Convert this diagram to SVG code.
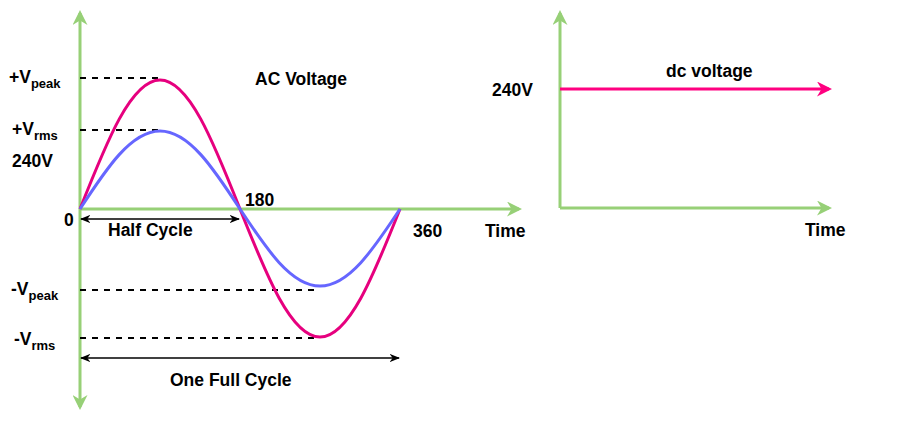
<svg xmlns="http://www.w3.org/2000/svg" width="902" height="421" viewBox="0 0 902 421">
<style>
.ax{stroke:#97D077;stroke-width:3;fill:none}
.dash{stroke:#000;stroke-width:2;stroke-dasharray:6 6;fill:none}
.blk{stroke:#000;stroke-width:1.5;fill:none}
text{font-family:"Liberation Sans",Arial,sans-serif;font-weight:bold;font-size:17.5px;fill:#000}
.sub{font-size:13px}
</style>
<defs>
<marker id="ga" viewBox="0 0 10 10" refX="8" refY="5" markerWidth="5" markerHeight="5" orient="auto-start-reverse"><path d="M0,0L10,5L0,10L3,5Z" fill="#97D077"/></marker>
<marker id="ka" viewBox="0 0 10 10" refX="9" refY="5" markerWidth="7" markerHeight="7" orient="auto-start-reverse"><path d="M0,1L10,5L0,9L3,5Z" fill="#000"/></marker>
<marker id="pa" viewBox="0 0 10 10" refX="8" refY="5" markerWidth="5" markerHeight="5" orient="auto"><path d="M0,0L10,5L0,10L3,5Z" fill="#FF0080"/></marker>
</defs>
<g id="connectors">
<line class="ax" x1="80" y1="407" x2="80" y2="13" marker-start="url(#ga)" marker-end="url(#ga)"/>
<line class="ax" x1="80" y1="209" x2="519" y2="209" marker-end="url(#ga)"/>
<line class="ax" x1="560" y1="208" x2="560" y2="13" marker-end="url(#ga)"/>
<line class="ax" x1="560" y1="208" x2="829" y2="208" marker-end="url(#ga)"/>
<line x1="560" y1="89" x2="829" y2="89" stroke="#FF0080" stroke-width="3" marker-end="url(#pa)"/>
<line class="dash" x1="80" y1="78" x2="160" y2="78"/>
<line class="dash" x1="80" y1="130" x2="160" y2="130"/>
<line class="dash" x1="80" y1="290" x2="320" y2="290"/>
<line class="dash" x1="80" y1="338" x2="320" y2="338"/>
<line class="blk" x1="81" y1="219" x2="239" y2="219" marker-start="url(#ka)" marker-end="url(#ka)"/>
<line class="blk" x1="81" y1="358" x2="399" y2="358" marker-start="url(#ka)" marker-end="url(#ka)"/>
</g>
<g id="red-wave"><path fill="none" stroke="#E6007E" stroke-width="3" d="M80,209 C106.7,141.3 131.2,80 160,80 S213.3,141.3 240,209 C266.7,276.2 291.2,337 320,337 S373.3,276.2 400,209"/></g>
<g id="blue-wave"><path fill="none" stroke="#6666FF" stroke-width="3" d="M80,209 C106.7,168 131.2,131 160,131 S213.3,168 240,209 C266.7,249.4 291.2,286 320,286 S373.3,249.4 400,209"/></g>
<g id="labels">
<text x="9" y="83">+V<tspan class="sub" dy="5">peak</tspan></text>
<text x="12" y="135">+V<tspan class="sub" dy="5">rms</tspan></text>
<text x="12" y="167">240V</text>
<text x="64" y="226">0</text>
<text x="245" y="206">180</text>
<text x="413" y="237">360</text>
<text x="485" y="237">Time</text>
<text x="255" y="85">AC Voltage</text>
<text x="108" y="236">Half Cycle</text>
<text x="11" y="295">-V<tspan class="sub" dy="5">peak</tspan></text>
<text x="14" y="345">-V<tspan class="sub" dy="5">rms</tspan></text>
<text x="170" y="386">One Full Cycle</text>
<text x="492" y="96">240V</text>
<text x="666" y="77">dc voltage</text>
<text x="805" y="236">Time</text>
</g>
</svg>
